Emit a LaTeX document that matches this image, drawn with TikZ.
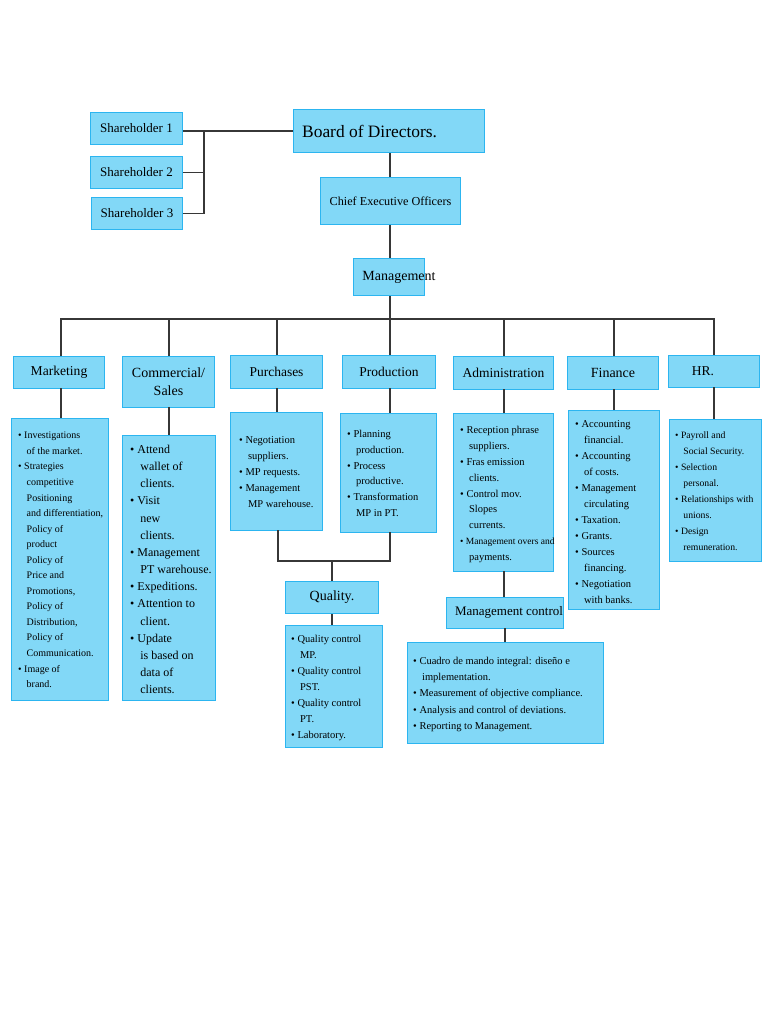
\documentclass[tikz,border=0pt]{standalone}
\usepackage{fontspec}
\setmainfont{Liberation Serif}
\usetikzlibrary{calc}
\definecolor{fillc}{RGB}{130,216,247}
\definecolor{bordc}{RGB}{44,181,240}
\definecolor{linec}{RGB}{55,55,55}
\newcommand{\bi}{\textbullet\ }
\newcommand{\ii}{\hspace*{0.85em}}
\begin{document}
\begin{tikzpicture}[x=1pt,y=-1pt,
  box/.style={draw=bordc, fill=fillc, line width=1pt, inner sep=0pt, anchor=north west, font=\fontsize{13.5}{15}\selectfont},
  txt/.style={inner sep=0pt, anchor=north west, align=left, font=\fontsize{10.5}{15.55}\selectfont},
  lbl/.style={inner sep=0pt, font=\fontsize{13.5}{15}\selectfont},
  conn/.style={draw=linec, line width=1.3pt}]
\useasboundingbox (0,0) rectangle (768,1024);
% top
\node[box, minimum width=92, minimum height=32, font=\fontsize{13}{15}\selectfont] (sh1) at (90,112) {Shareholder 1};
\node[box, minimum width=92, minimum height=32, font=\fontsize{13}{15}\selectfont] (sh2) at (90,156) {Shareholder 2};
\node[box, minimum width=91, minimum height=32, font=\fontsize{13}{15}\selectfont] (sh3) at (91,197) {Shareholder 3};
\node[box, minimum width=191, minimum height=43] (bod) at (293,109) {};
\node[lbl, anchor=west, font=\fontsize{17.4}{20}\selectfont] (bodt) at (302,131) {Board of Directors.};
\node[box, minimum width=140, minimum height=47, font=\fontsize{12.2}{14}\selectfont] (ceo) at (320,177) {Chief Executive Officers};
\node[box, minimum width=71, minimum height=37] (mgmt) at (353,258) {};
\node[lbl, font=\fontsize{14}{15}\selectfont] (mgmtt) at (399,277) {Management};
% departments
\node[box, minimum width=91, minimum height=32, font=\fontsize{13.6}{15}\selectfont] (mkt) at (13,356) {Marketing};
\node[box, minimum width=92, minimum height=51, align=center, font=\fontsize{14}{18}\selectfont] (cs) at (122,356) {Commercial/\\Sales};
\node[box, minimum width=92, minimum height=33] (pur) at (230,355) {Purchases};
\node[box, minimum width=93, minimum height=33] (pro) at (342,355) {Production};
\node[box, minimum width=100, minimum height=33] (adm) at (453,356) {Administration};
\node[box, minimum width=91, minimum height=33, font=\fontsize{14}{15}\selectfont] (fin) at (567,356) {Finance};
\node[box, minimum width=91, minimum height=32] (hr) at (668,355) {};
\node[lbl] (hrt) at (703,371) {HR.};
% detail boxes
\node[box, minimum width=97, minimum height=282] (mktd) at (11,418) {};
\node[box, minimum width=93, minimum height=265] (csd) at (122,435) {};
\node[box, minimum width=92, minimum height=118] (purd) at (230,412) {};
\node[box, minimum width=96, minimum height=119] (prod) at (340,413) {};
\node[box, minimum width=100, minimum height=158] (admd) at (453,413) {};
\node[box, minimum width=91, minimum height=199] (find) at (568,410) {};
\node[box, minimum width=92, minimum height=142] (hrd) at (669,419) {};
\node[box, minimum width=93, minimum height=32, font=\fontsize{14}{15}\selectfont] (qual) at (285,581) {Quality.};
\node[box, minimum width=97, minimum height=122] (quald) at (285,625) {};
\node[box, minimum width=117, minimum height=31] (mc) at (446,597) {};
\node[lbl, font=\fontsize{13}{15}\selectfont] (mct) at (509,612) {Management control};
\node[box, minimum width=196, minimum height=101] (mcd) at (407,642) {};
% texts
\node[txt, font=\fontsize{10}{15.55}\selectfont] (mktt) at (18,432) {\bi Investigations\\\ii of the market.\\\bi Strategies\\\ii competitive\\\ii Positioning\\\ii and differentiation,\\\ii Policy of\\\ii product\\\ii Policy of\\\ii Price and\\\ii Promotions,\\\ii Policy of\\\ii Distribution,\\\ii Policy of\\\ii Communication.\\\bi Image of\\\ii brand.};
\node[txt, font=\fontsize{12}{17.15}\selectfont] (cst) at (130,445) {\bi Attend\\\ii wallet of\\\ii clients.\\\bi Visit\\\ii new\\\ii clients.\\\bi Management\\\ii PT warehouse.\\\bi Expeditions.\\\bi Attention to\\\ii client.\\\bi Update\\\ii is based on\\\ii data of\\\ii clients.};
\node[txt, font=\fontsize{10.5}{16}\selectfont] (purt) at (239,436) {\bi Negotiation\\\ii suppliers.\\\bi MP requests.\\\bi Management\\\ii MP warehouse.};
\node[txt, font=\fontsize{10.5}{15.8}\selectfont] (prot) at (347,430) {\bi Planning\\\ii production.\\\bi Process\\\ii productive.\\\bi Transformation\\\ii MP in PT.};
\node[txt, font=\fontsize{10.5}{15.9}\selectfont] (admt) at (460,426) {\bi Reception phrase\\\ii suppliers.\\\bi Fras emission\\\ii clients.\\\bi Control mov.\\\ii Slopes\\\ii currents.\\{\fontsize{9.5}{15.9}\selectfont\bi Management overs and}\\\ii payments.};
\node[txt, font=\fontsize{10.5}{16}\selectfont] (fint) at (575,420) {\bi Accounting\\\ii financial.\\\bi Accounting\\\ii of costs.\\\bi Management\\\ii circulating\\\bi Taxation.\\\bi Grants.\\\bi Sources\\\ii financing.\\\bi Negotiation\\\ii with banks.};
\node[txt, font=\fontsize{9.7}{15.9}\selectfont] (hrtx) at (675,432) {\bi Payroll and\\\ii Social Security.\\\bi Selection\\\ii personal.\\\bi Relationships with\\\ii unions.\\\bi Design\\\ii remuneration.};
\node[txt, font=\fontsize{10.5}{16}\selectfont] (qualt) at (291,635) {\bi Quality control\\\ii MP.\\\bi Quality control\\\ii PST.\\\bi Quality control\\\ii PT.\\\bi Laboratory.};
\node[txt, font=\fontsize{10.5}{16.2}\selectfont] (mct2) at (413,657) {\bi Cuadro de mando integral: diseño e\\\ii implementation.\\\bi Measurement of objective compliance.\\\bi Analysis and control of deviations.\\\bi Reporting to Management.};
% connectors
\coordinate (shj) at (204,131);
\coordinate (bus) at (390,319);
\coordinate (qj) at (332,561);
\draw[conn] (sh1.east |- shj) -- (bod.west |- shj);
\draw[conn] (sh2.east) -| (shj);
\draw[conn] (sh3.east) -| (shj);
\draw[conn] (bod.south -| bus) -- (ceo.north -| bus);
\draw[conn] (ceo.south -| bus) -- (mgmt.north -| bus);
\draw[conn] (mgmt.south -| bus) -- (bus);
\draw[conn] (61,356) -- (61,319) -- (714,319) -- (714,355);
\draw[conn] (169,319) -- (169,356);
\draw[conn] (277,319) -- (277,355);
\draw[conn] (390,319) -- (390,355);
\draw[conn] (504,319) -- (504,356);
\draw[conn] (614,319) -- (614,356);
\draw[conn] (61,388) -- (61,418);
\draw[conn] (169,407) -- (169,435);
\draw[conn] (277,388) -- (277,412);
\draw[conn] (390,388) -- (390,413);
\draw[conn] (504,389) -- (504,413);
\draw[conn] (614,389) -- (614,410);
\draw[conn] (714,387) -- (714,419);
\draw[conn] (278,530) -- (278,561) -- (390,561) -- (390,532);
\draw[conn] (qj) -- (qual.north -| qj);
\draw[conn] (qual.south -| qj) -- (quald.north -| qj);
\draw[conn] (504,571) -- (504,597);
\draw[conn] (505,628) -- (505,642);
\end{tikzpicture}
\end{document}
